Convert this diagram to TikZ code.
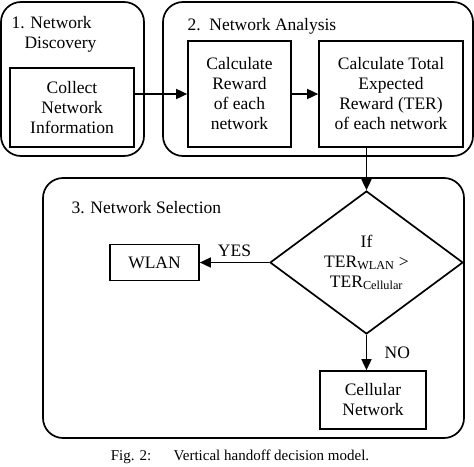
\documentclass[tikz,border=0pt]{standalone}
\usepackage{fontspec}
\setmainfont{Liberation Serif}
\usepackage{tikz}
\usetikzlibrary{arrows,arrows.meta,shapes,positioning}
\tikzstyle{group}=[draw=black, line width=1.7pt, rounded corners=20pt, inner sep=0pt]
\tikzstyle{stepbox}=[rectangle, draw=black, line width=1.7pt, align=center, inner sep=0pt]
\tikzstyle{decision}=[diamond, draw=black, line width=1.7pt, align=center, inner sep=0pt]
\tikzstyle{lab}=[font=\fontsize{17.5}{20}\selectfont]
\tikzstyle{arr}=[-{Triangle[length=11pt,width=10pt]}, line width=1.7pt]

\begin{document}
\begin{tikzpicture}[x=1pt, y=-1pt, lab]
          %
          \useasboundingbox (0,0) rectangle (474,466);
          \node at (72.5,79) [group, minimum width=143pt, minimum height=154pt] (grp1) {};
          \node at (318,79) [group, minimum width=310pt, minimum height=154pt] (grp2) {};
          \node at (253.5,308) [group, minimum width=421pt, minimum height=260pt] (grp3) {};
          %
          \node at (8,34) [anchor=west, align=left] (t1) {1. Network\\\hspace*{13pt}Discovery};
          \node at (184,26) [anchor=west] (t2) {2.\ \ Network Analysis};
          \node at (68,208) [anchor=west] (t3) {3. Network Selection};
          %
          \node at (72,107.5) [stepbox, minimum width=124pt, minimum height=79pt] (collect) {Collect\\Network\\Information};
          \node at (239.5,94) [stepbox, minimum width=103pt, minimum height=106pt] (reward) {Calculate\\Reward\\of each\\network};
          \node at (391,94) [stepbox, minimum width=144pt, minimum height=106pt] (ter) {Calculate Total\\Expected\\Reward (TER)\\of each network};
          \node at (366.5,262.5) [decision, minimum width=193pt, minimum height=143pt] (dec) {If\\TER\textsubscript{WLAN} >\\TER\textsubscript{Cellular}};
          \node at (154.5,262.5) [stepbox, minimum width=89pt, minimum height=36pt] (wlan) {WLAN};
          \node at (373,400) [stepbox, minimum width=106pt, minimum height=58pt] (cell) {Cellular\\Network};
          %
          \draw[arr] (collect.east |- reward.west) -- (reward.west);
          \draw[arr] (reward.east) -- (ter.west);
          \draw[arr] (dec.north |- ter.south) -- (dec.north);
          \draw[arr] (dec.west) -- node[above=2pt] (yes) {YES} (wlan.east);
          \draw[arr] (dec.south) -- node[right=14pt] (no) {NO} (dec.south |- cell.north);
          %
          \node at (240,457) [font=\fontsize{15}{18}\selectfont] (cap) {Fig. 2:\hspace{1.5em}Vertical handoff decision model.};
        \end{tikzpicture}
\end{document}
